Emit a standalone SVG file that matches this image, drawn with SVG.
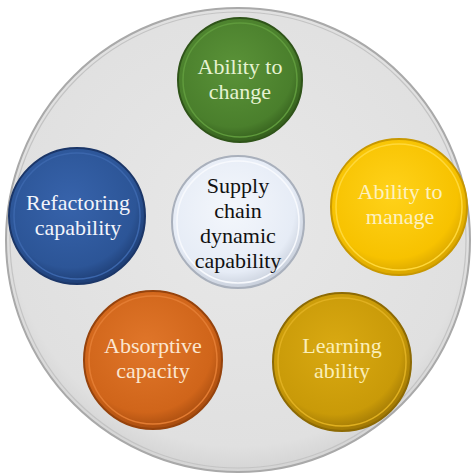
<svg xmlns="http://www.w3.org/2000/svg" width="474" height="474" viewBox="0 0 474 474">
  <defs>
    <radialGradient id="gBig" cx="50%" cy="45%" r="55%">
      <stop offset="0" stop-color="#e8e8e8"/>
      <stop offset="0.9" stop-color="#e0e0e0"/>
      <stop offset="1" stop-color="#d4d4d4"/>
    </radialGradient>
    <radialGradient id="gGreen" cx="45%" cy="40%" r="60%">
      <stop offset="0" stop-color="#5a9238"/>
      <stop offset="0.8" stop-color="#4a7f2c"/>
      <stop offset="1" stop-color="#355f1d"/>
    </radialGradient>
    <radialGradient id="gBlue" cx="45%" cy="40%" r="60%">
      <stop offset="0" stop-color="#3763ab"/>
      <stop offset="0.8" stop-color="#2c5597"/>
      <stop offset="1" stop-color="#1e3e75"/>
    </radialGradient>
    <radialGradient id="gYellow" cx="45%" cy="40%" r="60%">
      <stop offset="0" stop-color="#ffd21a"/>
      <stop offset="0.8" stop-color="#f7c200"/>
      <stop offset="1" stop-color="#d9a600"/>
    </radialGradient>
    <radialGradient id="gOrange" cx="45%" cy="40%" r="60%">
      <stop offset="0" stop-color="#e0762a"/>
      <stop offset="0.8" stop-color="#d0651a"/>
      <stop offset="1" stop-color="#a94d0f"/>
    </radialGradient>
    <radialGradient id="gGold" cx="45%" cy="40%" r="60%">
      <stop offset="0" stop-color="#d9a912"/>
      <stop offset="0.8" stop-color="#c99a08"/>
      <stop offset="1" stop-color="#a07805"/>
    </radialGradient>
    <radialGradient id="gCenter" cx="45%" cy="40%" r="60%">
      <stop offset="0" stop-color="#f4f7fc"/>
      <stop offset="0.8" stop-color="#e6ecf6"/>
      <stop offset="1" stop-color="#c9d0dc"/>
    </radialGradient>
  </defs>
  <style>
    .lbl { font-family: "Times New Roman", "Liberation Serif", Tinos, "DejaVu Serif", serif; font-size: 22px; text-anchor: middle; }
    .rim { fill: none; stroke-width: 1.5; }
  </style>
  <rect width="474" height="474" fill="#ffffff"/>
  <g id="background">
    <circle cx="238" cy="240" r="232" fill="url(#gBig)" stroke="#a9a9a9" stroke-width="2"/>
    <circle cx="238" cy="240" r="228" fill="none" stroke="#c4c4c4" stroke-width="1.2"/>
  </g>
  <g id="connectors"/>
  <g id="node-change">
    <circle cx="240" cy="80" r="62" fill="url(#gGreen)" stroke="#2f5419" stroke-width="2"/>
    <circle class="rim" cx="240" cy="80" r="57" stroke="#5f9a3c"/>
    <text class="lbl" x="240" y="74" fill="#e6f3d2">Ability to</text>
    <text class="lbl" x="240" y="99" fill="#e6f3d2">change</text>
  </g>
  <g id="node-refactoring">
    <circle cx="77" cy="216" r="68" fill="url(#gBlue)" stroke="#1b3668" stroke-width="2"/>
    <circle class="rim" cx="77" cy="216" r="63" stroke="#3b66ac"/>
    <text class="lbl" x="78" y="210" fill="#f2f4fa">Refactoring</text>
    <text class="lbl" x="78" y="235" fill="#f2f4fa">capability</text>
  </g>
  <g id="node-center">
    <circle cx="238" cy="222" r="66" fill="url(#gCenter)" stroke="#a9b0bc" stroke-width="2"/>
    <circle class="rim" cx="238" cy="222" r="61" stroke="#f7f9fd"/>
    <text class="lbl" x="238" y="193" fill="#111111">Supply</text>
    <text class="lbl" x="238" y="218" fill="#111111">chain</text>
    <text class="lbl" x="238" y="243" fill="#111111">dynamic</text>
    <text class="lbl" x="238" y="268" fill="#111111">capability</text>
  </g>
  <g id="node-manage">
    <circle cx="399" cy="207" r="68" fill="url(#gYellow)" stroke="#c89800" stroke-width="2"/>
    <circle class="rim" cx="399" cy="207" r="63" stroke="#ffd83a"/>
    <text class="lbl" x="400" y="199" fill="#fdf1c0">Ability to</text>
    <text class="lbl" x="400" y="224" fill="#fdf1c0">manage</text>
  </g>
  <g id="node-absorptive">
    <circle cx="153" cy="360" r="69" fill="url(#gOrange)" stroke="#96430c" stroke-width="2"/>
    <circle class="rim" cx="153" cy="360" r="64" stroke="#e37c32"/>
    <text class="lbl" x="153" y="353" fill="#fbe6d0">Absorptive</text>
    <text class="lbl" x="153" y="378" fill="#fbe6d0">capacity</text>
  </g>
  <g id="node-learning">
    <circle cx="342" cy="362" r="69" fill="url(#gGold)" stroke="#8d6a04" stroke-width="2"/>
    <circle class="rim" cx="342" cy="362" r="64" stroke="#e0b020"/>
    <text class="lbl" x="342" y="353" fill="#fbefb8">Learning</text>
    <text class="lbl" x="342" y="378" fill="#fbefb8">ability</text>
  </g>
</svg>
